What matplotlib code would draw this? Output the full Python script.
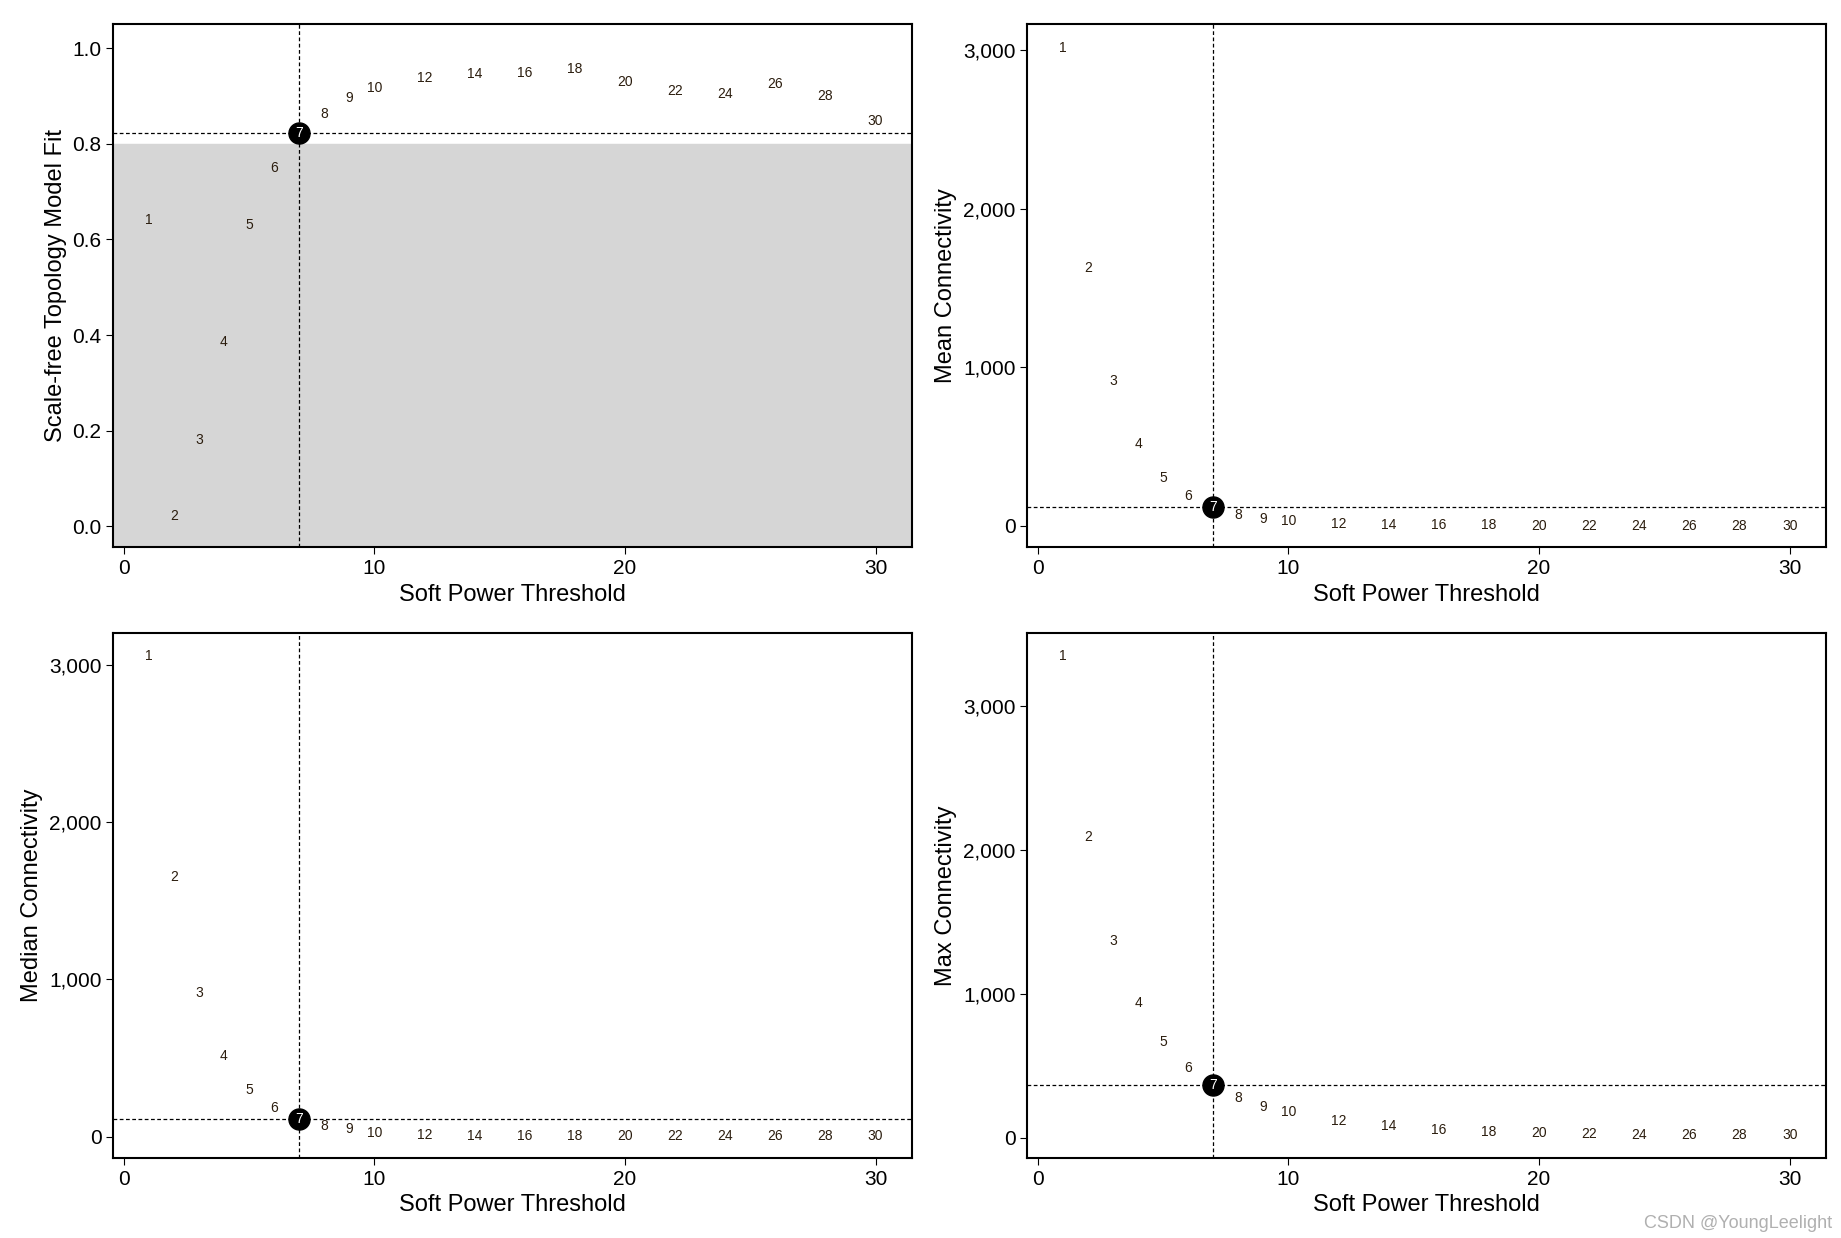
import matplotlib
matplotlib.use("Agg")
import matplotlib.pyplot as plt
from matplotlib.ticker import FuncFormatter

plt.rcParams["font.family"] = ["Liberation Sans", "DejaVu Sans"]

powers = [1, 2, 3, 4, 5, 6, 7, 8, 9, 10, 12, 14, 16, 18, 20, 22, 24, 26, 28, 30]
sft_r2 = [0.64, 0.022, 0.18, 0.385, 0.63, 0.75, 0.822, 0.862, 0.896, 0.918,
          0.938, 0.946, 0.948, 0.956, 0.93, 0.911, 0.904, 0.926, 0.901, 0.847]
mean_k = [3015, 1630, 915, 520, 305, 186, 119, 67, 45, 30,
          15, 8, 5, 3, 2, 1.5, 1, 0.8, 0.6, 0.5]
median_k = [3053, 1650, 915, 510, 293, 180, 112, 68, 45, 23,
            8, 5, 4, 3, 2, 1.5, 1, 0.8, 0.6, 0.5]
max_k = [3344, 2090, 1369, 934, 664, 484, 369, 279, 213, 180,
         115, 82, 57, 41, 33, 25, 16, 16, 16, 16]
chosen_power = 7
r2_cutoff = 0.8

panels = [
    (sft_r2, "Scale-free Topology Model Fit", (-0.044, 1.052), [0, 0.2, 0.4, 0.6, 0.8, 1.0]),
    (mean_k, "Mean Connectivity", (-134, 3170), [0, 1000, 2000, 3000]),
    (median_k, "Median Connectivity", (-135, 3203), [0, 1000, 2000, 3000]),
    (max_k, "Max Connectivity", (-139, 3508), [0, 1000, 2000, 3000]),
]
positions = [
    [0.0615, 0.558, 0.434, 0.423],
    [0.558, 0.558, 0.434, 0.423],
    [0.0615, 0.0648, 0.434, 0.424],
    [0.558, 0.0648, 0.434, 0.424],
]

fig = plt.figure(figsize=(18.41, 12.38), dpi=100)
for i, (vals, ylabel, ylim, yticks) in enumerate(panels):
    ax = fig.add_axes(positions[i])
    ax.set_xlim(-0.42, 31.46)
    ax.set_ylim(*ylim)
    if i == 0:
        ax.axhspan(ylim[0], r2_cutoff, color="#d6d6d6", zorder=0)
        ax.yaxis.set_major_formatter(FuncFormatter(lambda v, p: f"{v:.1f}"))
    else:
        ax.yaxis.set_major_formatter(FuncFormatter(lambda v, p: f"{int(v):,}"))
    ax.set_yticks(yticks)
    ax.set_xticks([0, 10, 20, 30])
    for p, v in zip(powers, vals):
        if p == chosen_power:
            ax.scatter([p], [v], s=230, color="black", zorder=3)
            ax.text(p, v, str(p), color="white", fontsize=10, ha="center", va="center", zorder=4)
        else:
            ax.text(p, v, str(p), color="#2b1d0e", fontsize=10, ha="center", va="center")
    y7 = vals[powers.index(chosen_power)]
    ax.axvline(chosen_power, color="black", lw=0.9, ls=(0, (3, 2)), zorder=1)
    ax.axhline(y7, color="black", lw=0.9, ls=(0, (3, 2)), zorder=1)
    ax.set_xlabel("Soft Power Threshold", fontsize=17)
    ax.set_ylabel(ylabel, fontsize=17)
    ax.tick_params(labelsize=15, length=5)
    for s in ax.spines.values():
        s.set_linewidth(1.5)

fig.text(0.995, 0.005, "CSDN @YoungLeelight", ha="right", va="bottom",
         fontsize=13, color="#b0b0b0")
fig.savefig("out.png", dpi=100)
